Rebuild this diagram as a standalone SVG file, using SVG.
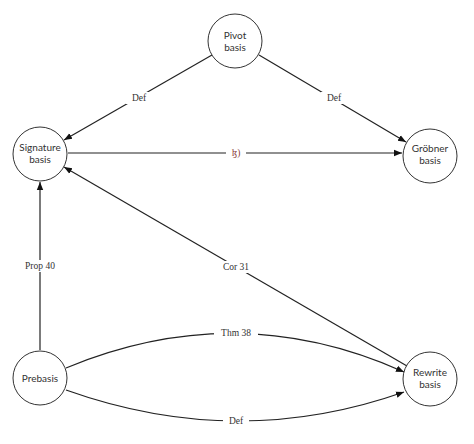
<svg xmlns="http://www.w3.org/2000/svg" width="474" height="444" viewBox="0 0 474 444">
<style>
.node circle{fill:#fff;stroke:#333;stroke-width:1}
.node text{font-family:Lato,"Liberation Sans",sans-serif;font-size:10px;fill:#333;text-anchor:middle}
.edge{fill:none;stroke:#222;stroke-width:1.2}
.lbl{font-family:"Liberation Serif",serif;font-size:9.5px;fill:#333;text-anchor:middle;dominant-baseline:central}
.bg{fill:#fff}
</style>
<defs>
<marker id="arr" viewBox="0 0 10 10" refX="10" refY="5" markerWidth="8" markerHeight="8" orient="auto" markerUnits="userSpaceOnUse">
<path d="M0,1 L10,5 L0,9 z" fill="#111"/>
</marker>
</defs>
<rect width="474" height="444" fill="#fff"/>
<g id="connectors">
<line class="edge" x1="212" y1="55" x2="64" y2="140" marker-end="url(#arr)"/>
<rect class="bg" x="126" y="92" width="26" height="12"/>
<text class="lbl" x="139" y="98">Def</text>
<line class="edge" x1="259" y1="55" x2="406" y2="142" marker-end="url(#arr)"/>
<rect class="bg" x="321" y="92" width="26" height="12"/>
<text class="lbl" x="334" y="98">Def</text>
<line class="edge" x1="68" y1="153" x2="402" y2="153" marker-end="url(#arr)"/>
<rect class="bg" x="226" y="147" width="20" height="12"/>
<text class="lbl" x="236" y="153" style="fill:#8a3a3a">ɮ)</text>
<line class="edge" x1="40" y1="350" x2="40" y2="182" marker-end="url(#arr)"/>
<rect class="bg" x="20" y="260" width="40" height="12"/>
<text class="lbl" x="40" y="266">Prop 40</text>
<line class="edge" x1="407" y1="366" x2="64" y2="167" marker-end="url(#arr)"/>
<rect class="bg" x="217" y="261" width="38" height="12"/>
<text class="lbl" x="236" y="267">Cor 31</text>
<path class="edge" d="M66,368 Q237,297 404,372" marker-end="url(#arr)"/>
<rect class="bg" x="214" y="327" width="44" height="12"/>
<text class="lbl" x="236" y="333">Thm 38</text>
<path class="edge" d="M66,390 Q237,451 404,392" marker-end="url(#arr)"/>
<rect class="bg" x="223" y="415" width="26" height="12"/>
<text class="lbl" x="236" y="421">Def</text>
</g>
<g id="pivot" class="node"><circle cx="235" cy="41" r="27"/><text x="235" y="39">Pivot</text><text x="235" y="51">basis</text></g>
<g id="signature" class="node"><circle cx="40" cy="154" r="27"/><text x="40" y="151">Signature</text><text x="40" y="163">basis</text></g>
<g id="grobner" class="node"><circle cx="430" cy="156" r="27"/><text x="430" y="152">Gröbner</text><text x="430" y="164">basis</text></g>
<g id="prebasis" class="node"><circle cx="40" cy="378" r="27"/><text x="40" y="382">Prebasis</text></g>
<g id="rewrite" class="node"><circle cx="430" cy="379" r="27"/><text x="430" y="376">Rewrite</text><text x="430" y="388">basis</text></g>
</svg>
